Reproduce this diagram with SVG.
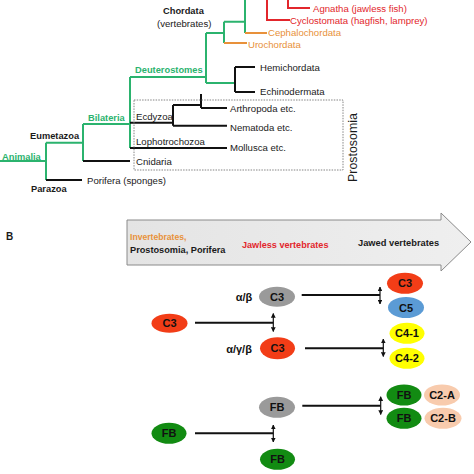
<svg xmlns="http://www.w3.org/2000/svg" width="474" height="474" viewBox="0 0 474 474">
<defs>
<style>
.t{font-family:"Liberation Sans",Arial,sans-serif;font-size:9.6px;fill:#1a1a1a}
.b{font-family:"Liberation Sans",Arial,sans-serif;font-size:9.3px;font-weight:bold;fill:#1a1a1a}
.g{fill:#2bb36e}
.o{fill:#e8913a}
.r{fill:#e2262c}
.n{font-family:"Liberation Sans",Arial,sans-serif;font-size:11px;font-weight:bold;fill:#111;text-anchor:middle;dominant-baseline:central}
.lg{stroke:#2bb36e;stroke-width:2;fill:none}
.lk{stroke:#111;stroke-width:2;fill:none}
.lo{stroke:#e8913a;stroke-width:2;fill:none}
.lr{stroke:#e2262c;stroke-width:2;fill:none}
.c{stroke:#111;stroke-width:2;fill:none}
.d{stroke:#111;stroke-width:1.2;fill:none;marker-start:url(#ah);marker-end:url(#ah)}
.red{fill:#f23d17}
.gray{fill:#9a9a9a}
.blue{fill:#5b9bd5}
.yel{fill:#ffff00}
.grn{fill:#128b12}
.pch{fill:#f8cbad}
</style>
<marker id="ah" viewBox="0 0 10 10" refX="9" refY="5" markerWidth="4" markerHeight="4" orient="auto-start-reverse" markerUnits="strokeWidth">
<path d="M0,0 L10,5 L0,10 z" fill="#111"/>
</marker>
<linearGradient id="ag" x1="0" y1="0" x2="1" y2="0">
<stop offset="0" stop-color="#e4e4e4"/>
<stop offset="1" stop-color="#efefef"/>
</linearGradient>
</defs>
<rect width="474" height="474" fill="#ffffff"/>

<!-- Panel A tree -->
<g id="tree-connectors">
<path class="lg" d="M0,161 H46 M46,142.7 V180 M46,142.7 H83 M83,124 V161 M83,124 H130 M130,77 V148 M130,77 H206 M206,33 V83 M206,83 H235 M206,33 H224 M224,21.7 V43 M224,21.7 H245 M245,0 V33"/>
<path class="lk" d="M46,180 H82 M83,161 H130 M130,148 H227 M130,122.7 H173 M173,105 V125.7 M173,105 H201 M201,94 V108 M201,108 H227 M173,125.7 H227 M235,67 V92 M235,67 H255 M235,92 H255"/>
<path class="lo" d="M224,43 H247 M245,33 H267"/>
<path class="lr" d="M267,0 V20 H290 M288,0 V8 H310"/>
<rect x="134" y="100" width="209" height="70" fill="none" stroke="#777" stroke-width="0.9" stroke-dasharray="1.5,1.2"/>
</g>
<g id="tree-labels">
<text class="t r" x="313" y="11.5">Agnatha (jawless fish)</text>
<text class="t r" x="290" y="23.5">Cyclostomata (hagfish, lamprey)</text>
<text class="t o" x="268" y="35.5">Cephalochordata</text>
<text class="t o" x="248" y="47.5">Urochordata</text>
<text class="t" x="260" y="70.5">Hemichordata</text>
<text class="t" x="260" y="95">Echinodermata</text>
<text class="t" x="230" y="111.5">Arthropoda etc.</text>
<text class="t" x="230" y="130.5">Nematoda etc.</text>
<text class="t" x="230" y="150.5">Mollusca etc.</text>
<text class="t" x="136" y="119.5">Ecdyzoa</text>
<text class="t" x="136" y="144.5">Lophotrochozoa</text>
<text class="t" x="136" y="164.5">Cnidaria</text>
<text class="t" x="87" y="183.5">Porifera (sponges)</text>
<text class="b" x="31" y="192">Parazoa</text>
<text class="b" x="30" y="138.5">Eumetazoa</text>
<text class="b g" x="2" y="159.5">Animalia</text>
<text class="b g" x="88" y="121">Bilateria</text>
<text class="b g" x="135" y="72.5">Deuterostomes</text>
<text class="b" x="163" y="14">Chordata</text>
<text class="t" x="157" y="26.5">(vertebrates)</text>
<text class="t" x="0" y="0" style="font-size:12.4px" transform="translate(357,182) rotate(-90)">Prostosomia</text>
</g>

<!-- Panel B -->
<text class="b" x="6" y="240" style="font-size:10px">B</text>
<g id="timeline-arrow">
<path d="M127,220 H441 V213 L471,242 L441,271 V265 H127 Z" fill="url(#ag)" stroke="#8a8a8a" stroke-width="1"/>
<text class="b o" x="130" y="240" style="font-size:8.6px">Invertebrates,</text>
<text class="b" x="130" y="252.5" style="font-size:9.2px">Prostosomia, Porifera</text>
<text class="b r" x="242" y="247.5" style="font-size:9.1px">Jawless vertebrates</text>
<text class="b" x="358" y="246" style="font-size:9.3px">Jawed vertebrates</text>
</g>

<g id="connectors">
<line class="c" x1="301.7" y1="295" x2="380" y2="295"/>
<line class="d" x1="380" y1="287" x2="380" y2="304"/>
<line class="c" x1="195" y1="322.7" x2="273.3" y2="322.7"/>
<line class="d" x1="273.3" y1="313.5" x2="273.3" y2="331.5"/>
<line class="c" x1="305" y1="348.3" x2="383.3" y2="348.3"/>
<line class="d" x1="383.3" y1="339" x2="383.3" y2="356.5"/>
<line class="c" x1="302.3" y1="405.7" x2="380.7" y2="405.7"/>
<line class="d" x1="380.7" y1="396.7" x2="380.7" y2="414.5"/>
<line class="c" x1="195" y1="433.3" x2="273.3" y2="433.3"/>
<line class="d" x1="273.3" y1="425" x2="273.3" y2="442"/>
</g>

<g id="n-c3-ab">
<text class="n" x="244" y="297">α/β</text>
<ellipse class="gray" cx="277" cy="296.7" rx="18" ry="10"/>
<text class="n" x="277" y="296.7">C3</text>
</g>
<g id="n-c3-jawed"><ellipse class="red" cx="405" cy="283.3" rx="18" ry="10.5"/><text class="n" x="405" y="283.3">C3</text></g>
<g id="n-c5"><ellipse class="blue" cx="406" cy="307.5" rx="18" ry="10.5"/><text class="n" x="406" y="307.5">C5</text></g>
<g id="n-c3-inv"><ellipse class="red" cx="169.5" cy="323.3" rx="18" ry="9.5"/><text class="n" x="169.5" y="323.3">C3</text></g>
<g id="n-c3-agb">
<text class="n" x="239" y="349">α/γ/β</text>
<ellipse class="red" cx="277.5" cy="348.3" rx="17.5" ry="11"/>
<text class="n" x="277.5" y="348.3">C3</text>
</g>
<g id="n-c4-1"><ellipse class="yel" cx="407" cy="333.3" rx="17.5" ry="10.5"/><text class="n" x="407" y="333.3">C4-1</text></g>
<g id="n-c4-2"><ellipse class="yel" cx="407" cy="358.3" rx="17.5" ry="10.5"/><text class="n" x="407" y="358.3">C4-2</text></g>
<g id="n-fb-c2a">
<ellipse class="grn" cx="404" cy="395" rx="17.5" ry="10.5"/><text class="n" x="404" y="395">FB</text>
<ellipse class="pch" cx="442" cy="395" rx="18" ry="10.5"/><text class="n" x="442" y="395">C2-A</text>
</g>
<g id="n-fb-c2b">
<ellipse class="grn" cx="404" cy="418.3" rx="17.5" ry="10.5"/><text class="n" x="404" y="418.3">FB</text>
<ellipse class="pch" cx="443" cy="418.3" rx="18.5" ry="10.5"/><text class="n" x="443" y="418.3">C2-B</text>
</g>
<g id="n-fb-gray"><ellipse class="gray" cx="277" cy="407.3" rx="18" ry="10.5"/><text class="n" x="277" y="407.3">FB</text></g>
<g id="n-fb-inv"><ellipse class="grn" cx="169" cy="433.3" rx="17.5" ry="10.5"/><text class="n" x="169" y="433.3">FB</text></g>
<g id="n-fb-jawless"><ellipse class="grn" cx="277.5" cy="459.3" rx="17.5" ry="10.5"/><text class="n" x="277.5" y="459.3">FB</text></g>
</svg>
